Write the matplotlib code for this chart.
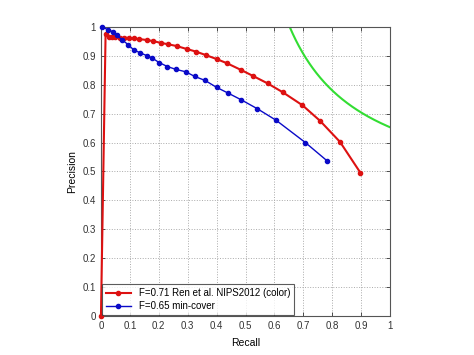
import numpy as np
import matplotlib
matplotlib.use("Agg")
import matplotlib.pyplot as plt

plt.rcParams['font.family'] = ['Liberation Sans', 'DejaVu Sans']

ren_recall = [0.0, 0.016, 0.027, 0.038, 0.050, 0.066, 0.081, 0.097, 0.113, 0.133,
              0.158, 0.181, 0.207, 0.233, 0.262, 0.296, 0.328, 0.362, 0.400, 0.437,
              0.483, 0.525, 0.576, 0.629, 0.697, 0.758, 0.827, 0.897]
ren_precision = [0.0, 0.976, 0.967, 0.964, 0.964, 0.961, 0.963, 0.962, 0.961, 0.958,
                 0.955, 0.951, 0.945, 0.940, 0.934, 0.924, 0.915, 0.903, 0.889, 0.874,
                 0.852, 0.831, 0.805, 0.774, 0.729, 0.675, 0.602, 0.496]

mc_recall = [0.005, 0.025, 0.040, 0.054, 0.074, 0.095, 0.114, 0.135, 0.158, 0.178,
             0.201, 0.230, 0.260, 0.293, 0.324, 0.360, 0.400, 0.440, 0.485, 0.541,
             0.606, 0.707, 0.783]
mc_precision = [1.0, 0.990, 0.984, 0.972, 0.955, 0.938, 0.920, 0.911, 0.901, 0.892,
                0.877, 0.863, 0.853, 0.845, 0.829, 0.815, 0.791, 0.771, 0.748, 0.717,
                0.677, 0.600, 0.536]

human_F = 0.79  # iso-F contour
labels = ['F=0.71 Ren et al. NIPS2012 (color)', 'F=0.65 min-cover']
tick_vals = [0, 0.1, 0.2, 0.3, 0.4, 0.5, 0.6, 0.7, 0.8, 0.9, 1]
tick_labels = ['0', '0.1', '0.2', '0.3', '0.4', '0.5', '0.6', '0.7', '0.8', '0.9', '1']

fig = plt.figure(figsize=(4.74, 3.55), dpi=100)
ax = fig.add_axes([0.213, 0.110, 0.610, 0.814])

r_iso = np.linspace(human_F / (2 - human_F), 1.0, 200)
p_iso = human_F * r_iso / (2 * r_iso - human_F)
ax.plot(r_iso, p_iso, color='#33dd33', lw=1.5, zorder=2)

ax.plot(ren_recall, ren_precision, color='#dd1111', lw=1.5, marker='o', ms=3,
        label=labels[0], zorder=3, clip_on=False)
ax.plot(mc_recall, mc_precision, color='#0a0ac8', lw=1.0, marker='o', ms=3,
        label=labels[1], zorder=3, clip_on=False)

ax.set_xlim(0, 1)
ax.set_ylim(0, 1)
ax.set_xticks(tick_vals)
ax.set_yticks(tick_vals)
ax.set_xticklabels(tick_labels)
ax.set_yticklabels(tick_labels)
ax.tick_params(direction='in', top=True, right=True, labelsize=7, length=3,
               width=0.6, colors='#333333', pad=3.5)
ax.grid(True, linestyle=':', color='#aaaaaa', lw=0.7)
for s in ax.spines.values():
    s.set_color('#555555')
    s.set_linewidth(0.8)
ax.set_xlabel('Recall', fontsize=7.5, labelpad=5)
ax.set_ylabel('Precision', fontsize=7.5, labelpad=4)

leg = ax.legend(loc='lower left', fontsize=7, frameon=True, fancybox=False,
                borderaxespad=0.1, handlelength=2.6, borderpad=0.4,
                labelspacing=0.3, edgecolor='#333333')
leg.get_frame().set_linewidth(0.8)
leg.set_zorder(5)

fig.savefig('out.png', dpi=100)
